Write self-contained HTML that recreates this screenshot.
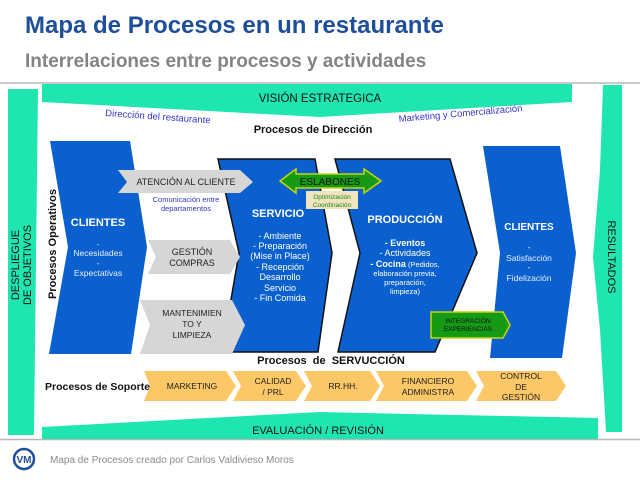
<!DOCTYPE html>
<html><head><meta charset="utf-8"><style>
html,body{margin:0;padding:0;background:#fff;}
svg{display:block;font-family:"Liberation Sans",Arial,sans-serif;}
</style></head><body>
<svg width="640" height="480" viewBox="0 0 640 480" xmlns="http://www.w3.org/2000/svg">
<text x="25" y="33" font-size="24" font-weight="bold" fill="#1f4f99">Mapa de Procesos en un restaurante</text>
<text x="25" y="67" font-size="19" font-weight="bold" fill="#848484">Interrelaciones entre procesos y actividades</text>
<line x1="0" y1="83" x2="640" y2="83" stroke="#b8b8b8" stroke-width="1.5"/>
<line x1="0" y1="439.5" x2="640" y2="439.5" stroke="#b8b8b8" stroke-width="1.5"/>
<!-- teal bands -->
<polygon points="42,84 572,84 572,102 320,117 42,102" fill="#1fe6b1"/>
<text x="320" y="102" font-size="11.5" text-anchor="middle" fill="#111">VISIÓN ESTRATEGICA</text>
<polygon points="8,89 38,89 34,435 8,435" fill="#1fe6b1"/>
<polygon points="603,85 622,85 622,432 606,432 600,330 593,257 600,170" fill="#1fe6b1"/>
<polygon points="42,427 320,412 598,418 598,439 42,439" fill="#1fe6b1"/>
<text x="318" y="434" font-size="11" text-anchor="middle" fill="#111">EVALUACIÓN / REVISIÓN</text>
<text transform="translate(19,265) rotate(-90)" font-size="11" text-anchor="middle" fill="#111">DESPLIEGUE</text>
<text transform="translate(31,265) rotate(-90)" font-size="11" text-anchor="middle" fill="#111">DE OBJETIVOS</text>
<text transform="translate(608,257) rotate(90)" font-size="11" text-anchor="middle" fill="#111">RESULTADOS</text>
<text transform="translate(105,116) rotate(4)" font-size="9.5" fill="#3434cc">Dirección del restaurante</text>
<text transform="translate(399,122) rotate(-5)" font-size="9.5" fill="#3434cc">Marketing y Comercialización</text>
<text x="313" y="133" font-size="11" font-weight="bold" text-anchor="middle" fill="#111">Procesos de Dirección</text>
<!-- blue shapes -->
<polygon points="50,141 130,141 147,247 131,354 49,354 68,247" fill="#0b60cf"/>
<text transform="translate(56,244) rotate(-90)" font-size="11" font-weight="bold" text-anchor="middle" fill="#111">Procesos Operativos</text>
<text x="98" y="226" font-size="11" font-weight="bold" text-anchor="middle" fill="#fff">CLIENTES</text>
<g font-size="8.5" fill="#e8eefc" text-anchor="middle">
<text x="98" y="247">-</text><text x="98" y="256">Necesidades</text><text x="98" y="266">-</text><text x="98" y="276">Expectativas</text></g>
<polygon points="218,159 315,159 332,253 318,352 222,352 239,253" fill="#0b60cf" stroke="#111" stroke-width="1.5"/>
<polygon points="335,159 450,159 477,253 435,352 338,352 360,253" fill="#0b60cf" stroke="#111" stroke-width="1.5"/>
<polygon points="483,146 560,146 576,253 562,358 490,358 500,253" fill="#0b60cf"/>
<text x="278" y="217" font-size="11" font-weight="bold" text-anchor="middle" fill="#fff">SERVICIO</text>
<g font-size="9" fill="#fff" text-anchor="middle">
<text x="280" y="239">- Ambiente</text><text x="280" y="249">- Preparación</text><text x="280" y="259">(Mise in Place)</text><text x="280" y="270">- Recepción</text><text x="280" y="280">Desarrollo</text><text x="280" y="291">Servicio</text><text x="280" y="301">- Fin Comida</text></g>
<text x="405" y="223" font-size="11" font-weight="bold" text-anchor="middle" fill="#fff">PRODUCCIÓN</text>
<g fill="#fff" text-anchor="middle">
<text x="405" y="246" font-size="9" font-weight="bold">- Eventos</text>
<text x="405" y="256" font-size="9">- Actividades</text>
<text x="405" y="267" font-size="9"><tspan font-weight="bold">- Cocina</tspan><tspan font-size="7.5"> (Pedidos,</tspan></text>
<text x="405" y="276" font-size="7.5">elaboración previa,</text>
<text x="405" y="285" font-size="7.5">preparación,</text>
<text x="405" y="294" font-size="7.5">limpieza)</text></g>
<text x="529" y="230" font-size="10" font-weight="bold" text-anchor="middle" fill="#fff">CLIENTES</text>
<g font-size="8.5" fill="#e8eefc" text-anchor="middle">
<text x="529" y="250">-</text><text x="529" y="261">Satisfacción</text><text x="529" y="270">-</text><text x="529" y="281">Fidelización</text></g>
<!-- gray arrows -->
<polygon points="118,170 240,170 253,182 240,193 118,193 127,182" fill="#d6d6d6"/>
<text x="186" y="185" font-size="9" text-anchor="middle" fill="#222">ATENCIÓN AL CLIENTE</text>
<text x="186" y="202" font-size="7.5" text-anchor="middle" fill="#3434cc">Comunicación entre</text>
<text x="186" y="211" font-size="7.5" text-anchor="middle" fill="#3434cc">departamentos</text>
<polygon points="148,240 230,240 240,257 230,274 148,274 156,257" fill="#d6d6d6"/>
<text x="192" y="255" font-size="9" text-anchor="middle" fill="#222">GESTIÓN</text>
<text x="192" y="266" font-size="9" text-anchor="middle" fill="#222">COMPRAS</text>
<polygon points="140,300 232,300 245,325 232,354 140,354 150,325" fill="#d6d6d6"/>
<text x="192" y="316" font-size="8.5" text-anchor="middle" fill="#222">MANTENIMIEN</text>
<text x="192" y="327" font-size="8.5" text-anchor="middle" fill="#222">TO Y</text>
<text x="192" y="338" font-size="8.5" text-anchor="middle" fill="#222">LIMPIEZA</text>
<!-- eslabones -->
<polygon points="280,181 296,169 296,174 364,174 364,169 381,181 364,193 364,188 296,188 296,193" fill="#159a16" stroke="#c6d800" stroke-width="1.5"/>
<text x="330" y="185" font-size="10" text-anchor="middle" fill="#111">ESLABONES</text>
<rect x="306" y="191" width="52" height="18" fill="#f1e2c0"/>
<text x="332" y="199" font-size="6.5" text-anchor="middle" fill="#1a8a1a">Optimización</text>
<text x="332" y="207" font-size="6.5" text-anchor="middle" fill="#1a8a1a">Coordinación</text>
<polygon points="431,312 503,312 510,325 503,338 431,338" fill="#159a16" stroke="#c6d800" stroke-width="1.5"/>
<text x="468" y="323" font-size="6.5" text-anchor="middle" fill="#111">INTEGRACIÓN</text>
<text x="468" y="331" font-size="6.5" text-anchor="middle" fill="#111">EXPERIENCIAS</text>
<text x="331" y="364" font-size="11" font-weight="bold" text-anchor="middle" fill="#111" xml:space="preserve">Procesos  de  SERVUCCIÓN</text>
<!-- support -->
<text x="45" y="390" font-size="10.5" font-weight="bold" fill="#111">Procesos de Soporte</text>
<g fill="#fcc867">
<polygon points="144,371 226,371 236,386 226,401 144,401 150,386"/>
<polygon points="233,371 296,371 306,386 296,401 233,401 241,386"/>
<polygon points="304,371 370,371 380,386 370,401 304,401 312,386"/>
<polygon points="376,371 467,371 477,386 467,401 376,401 384,386"/>
<polygon points="476,371 556,371 566,386 556,401 476,401 484,386"/>
</g>
<g font-size="8.5" text-anchor="middle" fill="#222">
<text x="192" y="389">MARKETING</text>
<text x="273" y="384">CALIDAD</text><text x="273" y="395">/ PRL</text>
<text x="343" y="389">RR.HH.</text>
<text x="428" y="384">FINANCIERO</text><text x="428" y="395">ADMINISTRA</text>
<text x="521" y="379">CONTROL</text><text x="521" y="390">DE</text><text x="521" y="400">GESTIÓN</text>
</g>
<!-- footer -->
<circle cx="24" cy="459" r="10" fill="none" stroke="#1f4f99" stroke-width="2.5"/>
<text x="24" y="463" font-size="10" font-weight="bold" text-anchor="middle" fill="#1f4f99">VM</text>
<text x="50" y="463" font-size="10" fill="#8a8a8a">Mapa de Procesos creado por Carlos Valdivieso Moros</text>
</svg>
</body></html>
